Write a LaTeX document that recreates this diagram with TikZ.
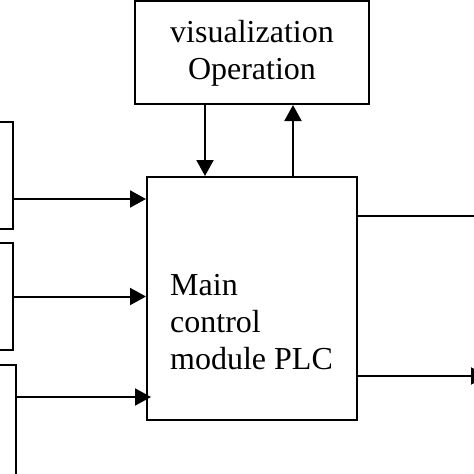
\documentclass[tikz,border=0pt]{standalone}
\usepackage{fontspec}
\setmainfont{Liberation Serif}
\usepackage{tikz}
\usetikzlibrary{calc}
\usetikzlibrary{arrows.meta}

\begin{document}
\begin{tikzpicture}[x=1pt,y=-1pt,
    blk/.style={draw,line width=2pt,inner sep=0pt},
    arr/.style={line width=2pt,-{Triangle[length=16pt,width=17pt]}},
    lbl/.style={font=\fontsize{32}{37}\selectfont,align=left,inner sep=0pt}]
    % Fix the page size
    \useasboundingbox (0,0) rectangle (474,474);
    \clip (0,0) rectangle (474,474);

    % Draw the blocks
    \node[blk,minimum width=234pt,minimum height=103pt] (vis) at (252,52.5) {};
    \node[blk,minimum width=210pt,minimum height=243pt] (plc) at (252,298.5) {};
    \node[blk,minimum width=60pt,minimum height=107pt] (in1) at (-17,175.5) {};
    \node[blk,minimum width=60pt,minimum height=107pt] (in2) at (-17,296.5) {};
    \node[blk,minimum width=60pt,minimum height=135pt] (in3) at (-14,432.5) {};

    % Labels
    \node[lbl,align=center] (vistext) at (252,53) {visualization\\Operation};
    \node[lbl,anchor=west] (plctext) at (170,322) {Main\\control\\module PLC};

    % Draw the connectors
    \draw[arr] ([xshift=-47pt]vis.south) -- ([xshift=-47pt]vis.south |- plc.north);
    \draw[arr] ([xshift=41pt]vis.south |- plc.north) -- ([xshift=41pt]vis.south);
    \draw[arr] ([yshift=-23.5pt]in1.east) -- ([yshift=-23.5pt]in1.east -| plc.west);
    \draw[arr] (in2.east) -- (in2.east -| plc.west);
    \draw[arr] ([yshift=35.5pt]in3.east) -- ([yshift=35.5pt,xshift=5pt]in3.east -| plc.west);

    % Outputs leave the picture
    \coordinate (out1) at (490,216);
    \coordinate (out2) at (487,376);
    \draw[line width=2pt] (plc.east |- out1) -- (out1);
    \draw[arr] (plc.east |- out2) -- (out2);
\end{tikzpicture}
\end{document}
